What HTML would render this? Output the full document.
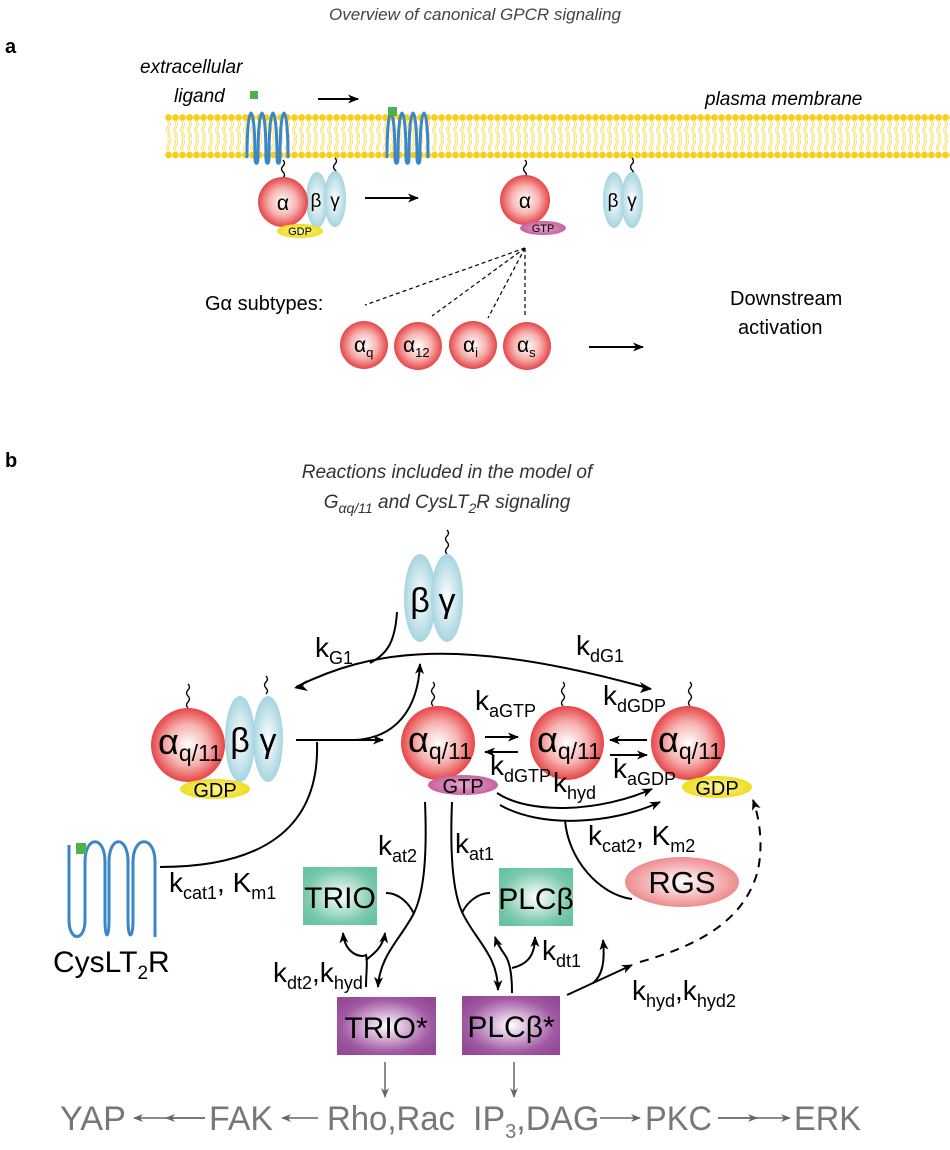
<!DOCTYPE html>
<html><head><meta charset="utf-8"><style>
html,body{margin:0;padding:0;background:#fff}
svg{display:block}
text{font-family:"Liberation Sans",Arial,sans-serif}
</style></head><body>
<svg width="950" height="1150" viewBox="0 0 950 1150" xmlns="http://www.w3.org/2000/svg">
<defs>
<radialGradient id="red" cx="50%" cy="50%" r="50%"><stop offset="0" stop-color="#fff"/><stop offset="0.55" stop-color="#f6b3b0"/><stop offset="1" stop-color="#e64548"/></radialGradient>
<radialGradient id="blue" cx="50%" cy="50%" r="50%"><stop offset="0" stop-color="#fff"/><stop offset="1" stop-color="#a6d5e0"/></radialGradient>
<radialGradient id="green" cx="50%" cy="50%" r="60%"><stop offset="0" stop-color="#fff"/><stop offset="0.75" stop-color="#7ccaae"/><stop offset="1" stop-color="#68c2a3"/></radialGradient>
<radialGradient id="purple" cx="50%" cy="50%" r="60%"><stop offset="0" stop-color="#fff"/><stop offset="0.75" stop-color="#a35aa5"/><stop offset="1" stop-color="#944a97"/></radialGradient>
<radialGradient id="pink" cx="50%" cy="50%" r="50%"><stop offset="0" stop-color="#fff"/><stop offset="1" stop-color="#ee8b8e"/></radialGradient>
<radialGradient id="yel" cx="50%" cy="50%" r="50%"><stop offset="0" stop-color="#fbf5a0"/><stop offset="1" stop-color="#eedd1e"/></radialGradient>
<radialGradient id="gtp" cx="50%" cy="50%" r="50%"><stop offset="0" stop-color="#e3a6cc"/><stop offset="1" stop-color="#c7629f"/></radialGradient>
<pattern id="mem" x="165" y="114" width="7" height="45" patternUnits="userSpaceOnUse">
<path d="M2.5,7 q2,3 0,6 q-2,3 0,6 q2,3 0,6 M4.5,7 q2,3 0,6 q-2,3 0,6 q2,3 0,6 M2.5,25 q2,3 0,6 q-2,3 0,6 M4.5,25 q2,3 0,6 q-2,3 0,6" stroke="#f8de60" stroke-width="0.9" fill="none"/>
<circle cx="3.5" cy="3.5" r="3.4" fill="#f6cf1d"/><circle cx="3.5" cy="41" r="3.4" fill="#f6cf1d"/>
</pattern>
<marker id="ah" markerWidth="11" markerHeight="9" refX="10" refY="4.5" orient="auto" markerUnits="userSpaceOnUse"><path d="M0,0 L11,4.5 L0,9 L3,4.5 z" fill="#000"/></marker>
<marker id="ahg" markerWidth="10" markerHeight="8" refX="9" refY="4" orient="auto" markerUnits="userSpaceOnUse"><path d="M0,0 L10,4 L0,8 L3,4 z" fill="#666"/></marker>
</defs>

<!-- ===== Part a ===== -->
<text x="475" y="20" font-size="17" font-style="italic" fill="#444" text-anchor="middle">Overview of canonical GPCR signaling</text>
<text x="5" y="53" font-size="20" font-weight="bold">a</text>
<text x="140" y="73" font-size="19" font-style="italic">extracellular</text>
<text x="174" y="102" font-size="19" font-style="italic">ligand</text>
<rect x="250" y="91" width="8" height="8" fill="#4cb050"/>
<line x1="318" y1="99" x2="358" y2="99" stroke="#000" stroke-width="2" marker-end="url(#ah)"/>
<text x="705" y="105" font-size="19" font-style="italic">plasma membrane</text>
<rect x="165" y="114" width="785" height="45" fill="url(#mem)"/>

<g fill="none" stroke="#3a86c8" stroke-width="3">
<path d="M247,158 C247,98 255,98 255,158 C255,165 258,165 258,158 C258,98 266,98 266,158 C266,165 269,165 269,158 C269,98 277,98 277,158 C277,165 280,165 280,158 C280,98 288,98 288,158"/>
<path d="M387,158 C387,98 395,98 395,158 C395,165 398,165 398,158 C398,98 406,98 406,158 C406,165 409,165 409,158 C409,98 417,98 417,158 C417,165 420,165 420,158 C420,98 428,98 428,158"/>
</g>
<rect x="388" y="107" width="9" height="9" fill="#4cb050"/>

<g fill="none" stroke="#000" stroke-width="1.4">
<path d="M283,160 q3,3 0,6 q-3,3 0,6 q3,3 0,6"/>
<path d="M335,158 q3,3 0,6 q-3,3 0,6 q3,3 0,5"/>
<path d="M525,160 q3,3 0,6 q-3,3 0,6 q3,3 0,5"/>
<path d="M632,158 q3,3 0,6 q-3,3 0,6 q3,3 0,5"/>
</g>
<ellipse cx="317" cy="200" rx="11" ry="28" fill="url(#blue)"/>
<ellipse cx="335" cy="199" rx="11" ry="28" fill="url(#blue)"/>
<circle cx="283" cy="202" r="25" fill="url(#red)"/>
<ellipse cx="300" cy="231" rx="23" ry="7" fill="url(#yel)"/>
<text x="283" y="210" font-size="21" text-anchor="middle">α</text>
<text x="316" y="207" font-size="19" text-anchor="middle">β</text>
<text x="335" y="207" font-size="19" text-anchor="middle">γ</text>
<text x="300" y="235" font-size="11" text-anchor="middle">GDP</text>
<line x1="365" y1="198" x2="418" y2="198" stroke="#000" stroke-width="2" marker-end="url(#ah)"/>

<circle cx="525" cy="200" r="25" fill="url(#red)"/>
<ellipse cx="543" cy="228" rx="23" ry="7" fill="url(#gtp)"/>
<text x="525" y="208" font-size="21" text-anchor="middle">α</text>
<text x="543" y="232" font-size="11" text-anchor="middle">GTP</text>
<ellipse cx="614" cy="200" rx="11" ry="28" fill="url(#blue)"/>
<ellipse cx="632" cy="200" rx="11" ry="28" fill="url(#blue)"/>
<text x="613" y="207" font-size="19" text-anchor="middle">β</text>
<text x="632" y="207" font-size="19" text-anchor="middle">γ</text>

<g stroke="#000" stroke-width="1.2" stroke-dasharray="4,3" fill="none">
<line x1="525" y1="248" x2="365" y2="305"/>
<line x1="525" y1="248" x2="432" y2="316"/>
<line x1="525" y1="248" x2="488" y2="318"/>
<line x1="525" y1="248" x2="525" y2="318"/>
</g>
<text x="205" y="310" font-size="20">Gα subtypes:</text>
<circle cx="364" cy="345" r="24" fill="url(#red)"/>
<circle cx="418" cy="346" r="24" fill="url(#red)"/>
<circle cx="473" cy="345" r="24" fill="url(#red)"/>
<circle cx="527" cy="346" r="24" fill="url(#red)"/>
<text x="354" y="352" font-size="21">α<tspan font-size="13" dy="5">q</tspan></text>
<text x="403" y="352" font-size="21">α<tspan font-size="13" dy="5">12</tspan></text>
<text x="463" y="352" font-size="21">α<tspan font-size="13" dy="5">i</tspan></text>
<text x="517" y="352" font-size="21">α<tspan font-size="13" dy="5">s</tspan></text>
<line x1="589" y1="347" x2="643" y2="347" stroke="#000" stroke-width="2" marker-end="url(#ah)"/>
<text x="730" y="305" font-size="20">Downstream</text>
<text x="738" y="334" font-size="20">activation</text>

<!-- ===== Part b ===== -->
<text x="5" y="467" font-size="20" font-weight="bold">b</text>
<text x="447" y="478" font-size="19" font-style="italic" fill="#333" text-anchor="middle">Reactions included in the model of</text>
<text x="447" y="508" font-size="19" font-style="italic" fill="#333" text-anchor="middle">G<tspan font-size="14" dy="5">αq/11</tspan><tspan dy="-5"> and CysLT</tspan><tspan font-size="14" dy="5">2</tspan><tspan dy="-5">R signaling</tspan></text>

<!-- top beta gamma -->
<path d="M447,530 q3,3 0,6 q-3,3 0,6 q3,3 0,6 q-3,3 0,6" fill="none" stroke="#000" stroke-width="1.4"/>
<ellipse cx="420" cy="598" rx="16" ry="44" fill="url(#blue)"/>
<ellipse cx="447" cy="598" rx="16" ry="44" fill="url(#blue)"/>
<text x="420" y="612" font-size="34" text-anchor="middle">β</text>
<text x="447" y="612" font-size="34" text-anchor="middle">γ</text>

<g fill="none" stroke="#000" stroke-width="2">
<path d="M397,612 C395,645 385,655 370,663"/>
<path d="M296,687 C370,650 460,635 651,689"/>
<path d="M296,740 L383,740" marker-end="url(#ah)"/>
<path d="M355,740 C395,738 418,710 420,664" marker-end="url(#ah)"/>
<path d="M317,742 C320,830 260,867 160,867"/>
</g>
<path d="M307,680 L294,688 L308,691 L303,686 z" fill="#000"/>
<path d="M640,682 L652,689 L640,693 L643,688 z" fill="#000"/>
<text x="315" y="657" font-size="28">k<tspan font-size="18" dy="7">G1</tspan></text>
<text x="576" y="655" font-size="28">k<tspan font-size="18" dy="7">dG1</tspan></text>

<!-- squiggles b -->
<g fill="none" stroke="#000" stroke-width="1.4">
<path d="M188,684 q3,3 0,6 q-3,3 0,6 q3,3 0,6 q-3,3 0,6"/>
<path d="M266,676 q3,3 0,6 q-3,3 0,6 q3,3 0,6"/>
<path d="M433,682 q3,3 0,6 q-3,3 0,6 q3,3 0,6 q-3,3 0,6"/>
<path d="M563,682 q3,3 0,6 q-3,3 0,6 q3,3 0,6 q-3,3 0,6"/>
<path d="M690,682 q3,3 0,6 q-3,3 0,6 q3,3 0,6 q-3,3 0,6"/>
</g>

<!-- left complex -->
<ellipse cx="240" cy="739" rx="15" ry="43" fill="url(#blue)"/>
<ellipse cx="268" cy="739" rx="15" ry="43" fill="url(#blue)"/>
<circle cx="188" cy="745" r="37" fill="url(#red)"/>
<ellipse cx="215" cy="789" rx="35" ry="10" fill="url(#yel)"/>
<text x="158" y="754" font-size="36">α<tspan font-size="23" dy="7">q/11</tspan></text>
<text x="240" y="752" font-size="34" text-anchor="middle">β</text>
<text x="268" y="752" font-size="34" text-anchor="middle">γ</text>
<text x="215" y="797" font-size="20" text-anchor="middle">GDP</text>

<!-- middle balls -->
<circle cx="438" cy="743" r="37" fill="url(#red)"/>
<ellipse cx="463" cy="785" rx="35" ry="10" fill="url(#gtp)"/>
<text x="408" y="752" font-size="36">α<tspan font-size="23" dy="7">q/11</tspan></text>
<text x="463" y="793" font-size="20" text-anchor="middle">GTP</text>

<circle cx="567" cy="743" r="37" fill="url(#red)"/>
<text x="537" y="752" font-size="36">α<tspan font-size="23" dy="7">q/11</tspan></text>

<circle cx="688" cy="743" r="37" fill="url(#red)"/>
<ellipse cx="717" cy="787" rx="35" ry="11" fill="url(#yel)"/>
<text x="658" y="752" font-size="36">α<tspan font-size="23" dy="7">q/11</tspan></text>
<text x="717" y="795" font-size="20" text-anchor="middle">GDP</text>

<g stroke="#000" stroke-width="2" fill="none">
<line x1="485" y1="737" x2="518" y2="737" marker-end="url(#ah)"/>
<line x1="518" y1="752" x2="485" y2="752" marker-end="url(#ah)"/>
<line x1="647" y1="740" x2="610" y2="740" marker-end="url(#ah)"/>
<line x1="610" y1="755" x2="647" y2="755" marker-end="url(#ah)"/>
<path d="M497,793 C530,815 600,812 652,789" marker-end="url(#ah)"/>
<path d="M500,805 C540,828 610,825 660,802" marker-end="url(#ah)"/>
<path d="M565,820 C568,860 600,895 632,899"/>
<path d="M425,802 C427,850 425,890 414,913 C400,940 380,955 378,987" marker-end="url(#ah)"/>
<path d="M386,893 C400,893 410,905 414,914"/>
<path d="M452,802 C450,850 452,890 462,912 C475,940 498,955 498,990" marker-end="url(#ah)"/>
<path d="M490,893 C478,893 467,902 462,913"/>
<path d="M366,987 C366,972 368,962 366,955 C362,958 345,955 343,933" marker-end="url(#ah)"/>
<path d="M366,960 C372,955 383,948 385,933" marker-end="url(#ah)"/>
<path d="M512,993 C512,975 510,962 505,955 C500,948 497,943 495,937" marker-end="url(#ah)"/>
<path d="M512,968 C525,965 535,958 535,937" marker-end="url(#ah)"/>
<path d="M567,995 L632,965" marker-end="url(#ah)"/>
<path d="M593,983 C603,975 605,960 603,940" marker-end="url(#ah)"/>
<path d="M640,962 C700,945 745,920 758,870 C763,845 760,820 753,800" stroke-dasharray="9,7" marker-end="url(#ah)"/>
</g>

<text x="475" y="710" font-size="28">k<tspan font-size="18" dy="7">aGTP</tspan></text>
<text x="490" y="775" font-size="28">k<tspan font-size="18" dy="7">dGTP</tspan></text>
<text x="603" y="705" font-size="28">k<tspan font-size="18" dy="7">dGDP</tspan></text>
<text x="613" y="778" font-size="28">k<tspan font-size="18" dy="7">aGDP</tspan></text>
<text x="553" y="792" font-size="28">k<tspan font-size="18" dy="7">hyd</tspan></text>
<text x="588" y="845" font-size="28">k<tspan font-size="18" dy="7">cat2</tspan><tspan dy="-7">, K</tspan><tspan font-size="18" dy="7">m2</tspan></text>

<ellipse cx="682" cy="882" rx="57" ry="25" fill="url(#pink)"/>
<text x="682" y="893" font-size="31" text-anchor="middle">RGS</text>

<!-- CysLT2R -->
<path d="M69,845 L69,920 C69,942 85,942 85,920 L85,862 C85,835 105,835 105,862 L105,920 C105,940 109,940 109,920 L109,862 C109,835 128,835 128,862 L128,920 C128,940 133,940 133,920 L133,862 C133,835 155,835 155,862 L155,937" fill="none" stroke="#3a86c8" stroke-width="3"/>
<rect x="76" y="843" width="10" height="11" fill="#4cb050"/>
<text x="53" y="972" font-size="30">CysLT<tspan font-size="19" dy="7">2</tspan><tspan dy="-7">R</tspan></text>
<text x="169" y="892" font-size="28">k<tspan font-size="18" dy="7">cat1</tspan><tspan dy="-7">, K</tspan><tspan font-size="18" dy="7">m1</tspan></text>

<rect x="303" y="867" width="74" height="58" fill="url(#green)"/>
<text x="340" y="908" font-size="30" text-anchor="middle">TRIO</text>
<rect x="499" y="868" width="74" height="58" fill="url(#green)"/>
<text x="536" y="909" font-size="30" text-anchor="middle">PLCβ</text>
<rect x="337" y="997" width="99" height="58" fill="url(#purple)"/>
<text x="386" y="1038" font-size="30" text-anchor="middle">TRIO*</text>
<rect x="462" y="996" width="98" height="59" fill="url(#purple)"/>
<text x="511" y="1037" font-size="30" text-anchor="middle">PLCβ*</text>

<text x="378" y="855" font-size="28">k<tspan font-size="18" dy="7">at2</tspan></text>
<text x="455" y="853" font-size="28">k<tspan font-size="18" dy="7">at1</tspan></text>
<text x="273" y="982" font-size="28">k<tspan font-size="18" dy="7">dt2</tspan><tspan dy="-7">,k</tspan><tspan font-size="18" dy="7">hyd</tspan></text>
<text x="542" y="960" font-size="28">k<tspan font-size="18" dy="7">dt1</tspan></text>
<text x="632" y="1000" font-size="28">k<tspan font-size="18" dy="7">hyd</tspan><tspan dy="-7">,k</tspan><tspan font-size="18" dy="7">hyd2</tspan></text>

<g stroke="#666" stroke-width="1.5" fill="none">
<line x1="385" y1="1062" x2="385" y2="1097" marker-end="url(#ahg)"/>
<line x1="514" y1="1062" x2="514" y2="1097" marker-end="url(#ahg)"/>
<line x1="205" y1="1118" x2="134" y2="1118" marker-end="url(#ahg)"/>
<line x1="205" y1="1118" x2="166" y2="1118" marker-end="url(#ahg)"/>
<line x1="318" y1="1118" x2="282" y2="1118" marker-end="url(#ahg)"/>
<line x1="600" y1="1118" x2="640" y2="1118" marker-end="url(#ahg)"/>
<line x1="718" y1="1118" x2="757" y2="1118" marker-end="url(#ahg)"/>
<line x1="718" y1="1118" x2="790" y2="1118" marker-end="url(#ahg)"/>
</g>
<g fill="#777" font-size="34">
<text x="60" y="1130" textLength="66" lengthAdjust="spacingAndGlyphs">YAP</text>
<text x="209" y="1130" textLength="64" lengthAdjust="spacingAndGlyphs">FAK</text>
<text x="327" y="1130" textLength="128" lengthAdjust="spacingAndGlyphs">Rho,Rac</text>
<text x="473" y="1130">IP<tspan font-size="20" dy="8">3</tspan><tspan dy="-8">,DAG</tspan></text>
<text x="645" y="1130" textLength="67" lengthAdjust="spacingAndGlyphs">PKC</text>
<text x="794" y="1130" textLength="67" lengthAdjust="spacingAndGlyphs">ERK</text>
</g>
</svg>
</body></html>
